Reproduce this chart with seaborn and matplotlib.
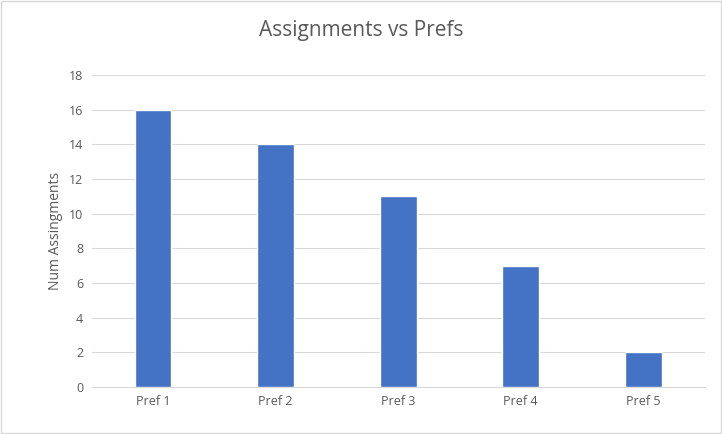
import matplotlib
matplotlib.use("Agg")
import matplotlib.pyplot as plt
import seaborn as sns
import pandas as pd

prefs = ['Pref 1', 'Pref 2', 'Pref 3', 'Pref 4', 'Pref 5']
assignments = [16, 14, 11, 7, 2]

sns.set_style("white")
plt.rcParams['font.family'] = ['Open Sans', 'DejaVu Sans']

df = pd.DataFrame({'pref': prefs, 'count': assignments})

fig = plt.figure(figsize=(7.22, 4.34), dpi=100)
ax = fig.add_axes([0.127, 0.108, 0.849, 0.719])
sns.barplot(data=df, x='pref', y='count', color='#4472C4', width=0.3,
            saturation=1, ax=ax, zorder=3)

ax.set_ylim(0, 18)
ax.set_yticks(range(0, 19, 2))
ax.grid(axis='y', color='#D9D9D9', linewidth=0.8, zorder=0)
for s in ['top', 'right', 'left']:
    ax.spines[s].set_visible(False)
ax.spines['bottom'].set_color('#D9D9D9')
ax.tick_params(axis='both', length=0, labelsize=9, colors='#595959', pad=6)
ax.set_xlabel('')
ax.set_ylabel('Num Assingments', fontsize=10, color='#595959')
fig.suptitle('Assignments vs Prefs', y=0.955, fontsize=15, color='#595959')

fig.patches.append(plt.Rectangle((0.002, 0.003), 0.996, 0.994, transform=fig.transFigure,
                                 fill=False, edgecolor='#D9D9D9', linewidth=1))
fig.savefig('out.png', dpi=100)
